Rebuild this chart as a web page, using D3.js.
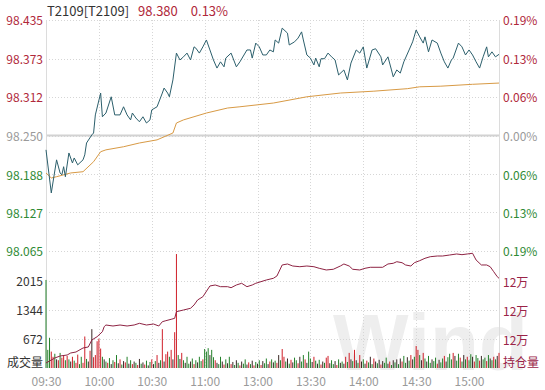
<!DOCTYPE html>
<html>
<head>
<meta charset="utf-8">
<script src="https://cdn.jsdelivr.net/npm/d3@7"></script>
<style>
    body { margin: 0; background: #fff; }
    svg { display: block; }
    text { font-family: "Noto Sans CJK SC", "Noto Sans", sans-serif; }
</style>
</head>
<body>
<svg id="chart" width="545" height="390"></svg>
<script>
// --- data ---
const title = "T2109[T2109]";
const lastPrice = "98.380";
const lastPct = "0.13%";

// price: minute index (0 = 09:30) and value
const priceMinutes = [0, 3, 6, 8, 9, 10, 11, 13, 15, 16, 18, 21, 22, 23, 26, 27, 28, 31, 32, 34,
    37, 39, 42, 44, 46, 48, 49, 51, 53, 55, 57, 59, 60, 63, 66, 67, 69, 70, 72, 74,
    76, 78, 80, 82, 84, 85, 87, 89, 91, 93, 95, 97, 99, 101, 102, 105, 108, 110, 114, 116,
    117, 119, 121, 123, 125, 127, 129, 130, 132, 134, 137, 138, 141, 143, 145, 146, 148, 150, 152, 153,
    155, 156, 158, 160, 162, 164, 166, 169, 171, 173, 176, 178, 180, 182, 185, 187, 190, 191, 194, 196,
    197, 199, 201, 203, 206, 208, 210, 212, 214, 215, 217, 219, 222, 224, 226, 228, 230, 231, 234, 236,
    238, 240, 242, 244, 246, 248, 250, 251, 253, 255, 257];
const prices = [98.227, 98.158, 98.211, 98.190, 98.187, 98.200, 98.184, 98.222, 98.206, 98.214,
    98.203, 98.211, 98.219, 98.238, 98.251, 98.254, 98.283, 98.318, 98.280, 98.286,
    98.312, 98.283, 98.283, 98.296, 98.283, 98.275, 98.286, 98.278, 98.272, 98.280,
    98.270, 98.275, 98.291, 98.296, 98.318, 98.326, 98.318, 98.312, 98.339, 98.382,
    98.371, 98.376, 98.382, 98.371, 98.392, 98.390, 98.382, 98.392, 98.403, 98.387,
    98.371, 98.358, 98.368, 98.360, 98.374, 98.382, 98.360, 98.368, 98.387, 98.387,
    98.374, 98.398, 98.392, 98.379, 98.379, 98.387, 98.384, 98.403, 98.398, 98.422,
    98.414, 98.395, 98.400, 98.406, 98.416, 98.403, 98.379, 98.374, 98.363, 98.374,
    98.360, 98.373, 98.373, 98.382, 98.376, 98.371, 98.347, 98.355, 98.339, 98.366,
    98.387, 98.382, 98.392, 98.358, 98.387, 98.389, 98.376, 98.363, 98.376, 98.355,
    98.344, 98.355, 98.350, 98.368, 98.387, 98.400, 98.419, 98.408, 98.398, 98.408,
    98.384, 98.403, 98.398, 98.382, 98.368, 98.358, 98.371, 98.374, 98.398, 98.392,
    98.379, 98.387, 98.379, 98.368, 98.358, 98.376, 98.392, 98.376, 98.384, 98.376, 98.380];

// average price line
const avgMinutes = [0, 3, 6, 14, 21, 27, 31, 34, 44, 53, 63, 72, 74, 78, 91, 103, 110, 129,
    148, 167, 186, 205, 212, 224, 242, 257];
const avgPrices = [98.190, 98.182, 98.184, 98.190, 98.192, 98.208, 98.224, 98.227, 98.232, 98.238,
    98.243, 98.254, 98.270, 98.275, 98.286, 98.294, 98.296, 98.302, 98.312, 98.318,
    98.321, 98.325, 98.328, 98.329, 98.332, 98.334];

// open interest (持仓量)
const oiMinutes = [0, 5, 8, 12, 14, 17, 21, 24, 26, 29, 32, 33, 34, 38, 42, 46, 50, 53, 57, 61,
    64, 66, 68, 71, 73, 74, 78, 82, 84, 86, 89, 93, 96, 99, 103, 105, 108, 111, 114, 117,
    119, 125, 129, 131, 134, 137, 140, 144, 148, 152, 155, 159, 163, 167, 169, 172, 174, 178, 181, 184,
    191, 194, 197, 199, 202, 204, 207, 209, 212, 215, 218, 222, 225, 229, 233, 236, 239, 242, 244, 247,
    250, 252, 254, 256, 257];
const openInterest = [119171, 119342, 119410, 119444, 119513, 119547, 119684, 119718, 119957, 120070,
    120241, 120412, 120470, 120436, 120470, 120436, 120470, 120528, 120470, 120504,
    120436, 120583, 120617, 120665, 120699, 120925, 120983, 121041, 121154, 121325,
    121438, 121804, 121838, 121780, 121780, 121745, 121838, 121896, 121780, 121838,
    121896, 122009, 122067, 122145, 122522, 122556, 122487, 122463, 122487, 122463,
    122409, 122351, 122375, 122487, 122556, 122487, 122375, 122351, 122409, 122443,
    122443, 122556, 122580, 122634, 122600, 122522, 122487, 122600, 122669, 122751,
    122805, 122829, 122829, 122863, 122898, 122874, 122898, 122922, 122693, 122522,
    122522, 122463, 122293, 122122, 122067];

// volume per minute (成交量) and bar direction: r up, g down, k flat
const volumes = [2040, 420, 700, 380, 260, 330, 200, 180, 350, 240,
    300, 180, 280, 200, 150, 260, 170, 120, 310, 90,
    260, 120, 730, 210, 150, 400, 900, 250, 300, 620,
    680, 450, 260, 200, 150, 120, 230, 90, 180, 140,
    300, 110, 200, 80, 160, 130, 260, 100, 180, 90,
    150, 120, 70, 210, 100, 130, 80, 170, 60, 140,
    200, 90, 160, 300, 120, 180, 900, 150, 320, 380,
    260, 420, 200, 830, 2640, 300, 210, 350, 180, 120,
    260, 100, 150, 220, 90, 180, 130, 260, 160, 200,
    440, 380, 460, 300, 420, 250, 180, 120, 90, 260,
    150, 80, 200, 110, 260, 90, 140, 70, 180, 120,
    60, 150, 100, 200, 80, 130, 90, 170, 60, 140,
    100, 180, 70, 160, 110, 220, 90, 150, 200, 130,
    170, 120, 300, 180, 440, 260, 150, 220, 100, 190,
    130, 240, 180, 110, 260, 150, 300, 200, 120, 380,
    220, 140, 260, 170, 100, 190, 80, 150, 120, 240,
    280, 110, 180, 90, 160, 70, 200, 120, 150, 100,
    260, 140, 350, 200, 160, 420, 180, 120, 300, 150,
    200, 100, 170, 130, 260, 90, 220, 150, 110, 190,
    80, 160, 120, 240, 100, 150, 70, 180, 130, 200,
    90, 220, 150, 280, 120, 250, 170, 300, 200, 260,
    510, 420, 300, 180, 350, 220, 150, 280, 120, 200,
    160, 240, 100, 190, 130, 220, 280, 150, 250, 330,
    200, 350, 280, 170, 330, 240, 150, 300, 200, 260,
    180, 320, 260, 150, 300, 230, 170, 280, 200, 240,
    160, 300, 220, 180, 260, 200, 280, 350];
const volDirs = "gggrrgkrgr" + "rgrgkrgrrg" + "grrgkrkrrr" + "rrgkgrgkgr" + "gkrgkrgkgr" +
    "kgrkgkrgkg" + "rkgrkgrkrr" + "grkrrgkrgk" + "ggkgrgkggr" + "gggkggrkgg" +
    "krgkgrkgkg" + "rkggkrgkrg" + "kgrkggkrgk" + "grkgrrgkgr" + "kggrkggrkg" +
    "gkrgkgrkgr" + "rkggkrgkgk" + "rgrkgrkgrk" + "gkrgkgrkgk" + "rkggkrgkgk" +
    "gkrggkgrkg" + "rrgkrgkggk" + "ggrkggrkgg" + "grkggrgkgr" + "ggkrggrkgg" + "rgkgrgkr";

// axis ticks
const priceTicks = [98.435, 98.373, 98.312, 98.250, 98.188, 98.127, 98.065];
const pctLabels = ["0.19%", "0.13%", "0.06%", "0.00%", "0.06%", "0.13%", "0.19%"];
const volTicks = [2015, 1344, 672];
const oiTicks = [121940, 120950, 119960];
const timeTicks = [0, 30, 60, 90, 120, 150, 180, 210, 240];
const timeLabels = ["09:30", "10:00", "10:30", "11:00", "13:00", "13:30", "14:00", "14:30", "15:00"];

// --- colours ---
const upColor = "#b0283a";
const downColor = "#2f8a34";
const flatColor = "#9a9a9a";
const barColors = { r: "#d0202a", g: "#23802a", k: "#3b2a26" };

// --- scales ---
const svg = d3.select("#chart");
const x = d3.scaleLinear().domain([0, 257]).range([46, 499]);
const yPrice = d3.scaleLinear().domain([98.065, 98.435]).range([251, 20]);
const yVol = d3.scaleLinear().domain([0, 2687]).range([368, 252]);
const yOi = d3.scaleLinear().domain([119000, 123000]).range([368, 251]);
const baseLine = 98.250;

function tickColor(v) {
    if (Math.abs(v - baseLine) < 0.0005) return flatColor;
    return v > baseLine ? upColor : downColor;
}

// watermark
svg.append("text")
    .attr("x", 333).attr("y", 370)
    .style("font-family", "'Liberation Sans', Arial, sans-serif")
    .style("font-weight", "bold")
    .style("font-size", "80px")
    .attr("fill", "#eeeeee")
    .text("Wind");

// --- grid ---
const grid = svg.append("g");
const hLines = priceTicks.map(yPrice).concat(volTicks.map(yVol));
grid.selectAll(".h").data(hLines).enter().append("line")
    .attr("x1", 46).attr("x2", 499)
    .attr("y1", d => Math.round(d) + 0.5).attr("y2", d => Math.round(d) + 0.5)
    .attr("stroke", "#d6d6d6").attr("stroke-dasharray", "1,2");
grid.selectAll(".v").data(timeTicks.slice(1)).enter().append("line")
    .attr("x1", d => Math.round(x(d)) + 0.5).attr("x2", d => Math.round(x(d)) + 0.5)
    .attr("y1", 20).attr("y2", 368)
    .attr("stroke", "#d6d6d6").attr("stroke-dasharray", "1,2");
grid.append("line")
    .attr("x1", 46).attr("x2", 499)
    .attr("y1", yPrice(baseLine)).attr("y2", yPrice(baseLine))
    .attr("stroke", "#d2d2d2").attr("stroke-width", 2);
[46, 499].forEach(px => {
    grid.append("line")
        .attr("x1", px + 0.5).attr("x2", px + 0.5)
        .attr("y1", 20).attr("y2", 368)
        .attr("stroke", "#dcdcdc");
});

// --- volume bars ---
svg.append("g").selectAll("rect")
    .data(volumes).enter().append("rect")
    .attr("x", (d, i) => x(i) - 0.5)
    .attr("width", 1)
    .attr("y", d => yVol(d))
    .attr("height", d => yVol(0) - yVol(d))
    .attr("fill", (d, i) => barColors[volDirs[i]] || barColors.k);

// --- lines ---
function drawLine(mins, vals, yScale, color) {
    const line = d3.line()
        .x((d, i) => x(mins[i]))
        .y(d => yScale(d));
    svg.append("path")
        .datum(vals)
        .attr("fill", "none")
        .attr("stroke", color)
        .attr("stroke-width", 1)
        .attr("d", line);
}
drawLine(oiMinutes, openInterest, yOi, "#8e2343");
drawLine(avgMinutes, avgPrices, yPrice, "#d89a45");
drawLine(priceMinutes, prices, yPrice, "#2c5f6c");

// --- axes ---
function styleAxis(g) {
    g.select(".domain").remove();
    g.selectAll("text").style("font-size", "12px");
}

svg.append("g")
    .attr("transform", "translate(43,1)")
    .call(d3.axisLeft(yPrice).tickValues(priceTicks).tickSize(0).tickPadding(0).tickFormat(d3.format(".3f")))
    .call(styleAxis)
    .selectAll("text").attr("fill", d => tickColor(d));

svg.append("g")
    .attr("transform", "translate(503,1)")
    .call(d3.axisRight(yPrice).tickValues(priceTicks).tickSize(0).tickPadding(0).tickFormat((d, i) => pctLabels[i]))
    .call(styleAxis)
    .selectAll("text").attr("fill", d => tickColor(d));

svg.append("g")
    .attr("transform", "translate(43,1)")
    .call(d3.axisLeft(yVol).tickValues(volTicks).tickSize(0).tickPadding(0).tickFormat(d3.format("d")))
    .call(styleAxis)
    .selectAll("text").attr("fill", "#333");

svg.append("g")
    .attr("transform", "translate(503,1)")
    .call(d3.axisRight(yOi).tickValues(oiTicks).tickSize(0).tickPadding(0)
        .tickFormat(d => Math.round(d / 10000) + "万"))
    .call(styleAxis)
    .selectAll("text").attr("fill", "#9a2347");

svg.append("g")
    .attr("transform", "translate(0,377)")
    .call(d3.axisBottom(x).tickValues(timeTicks).tickSize(0).tickPadding(0).tickFormat((d, i) => timeLabels[i]))
    .call(styleAxis)
    .selectAll("text").attr("fill", "#9a9a9a");

// panel captions
svg.append("text").attr("x", 43).attr("y", 367).attr("text-anchor", "end")
    .style("font-size", "12px").attr("fill", "#333").text("成交量");
svg.append("text").attr("x", 503).attr("y", 367)
    .style("font-size", "12px").attr("fill", "#9a2347").text("持仓量");

// --- header ---
const header = svg.append("text").attr("x", 47).attr("y", 16).style("font-size", "13px");
header.append("tspan").attr("fill", "#333").text(title);
header.append("tspan").attr("dx", 9).attr("fill", upColor).text(lastPrice);
header.append("tspan").attr("dx", 13).attr("fill", upColor).text(lastPct);
</script>
</body>
</html>
